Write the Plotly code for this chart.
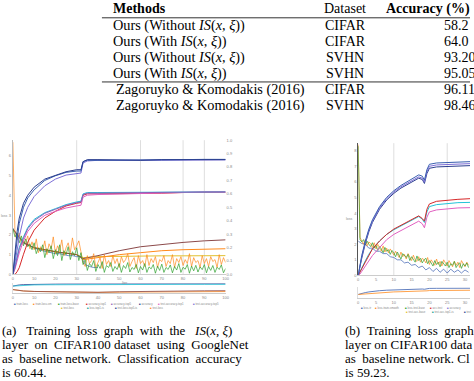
import plotly.graph_objects as go

W, H = 474, 381
NB = "\u00a0"  # extra space used to imitate the justified caption lines

# ---------------- table data ----------------
table_header = ["Methods", "Dataset", "Accuracy (%)"]
table_methods = [
    "Ours (Without <i>IS</i>(<i>x</i>, <i>ξ</i>))",
    "Ours (With <i>IS</i>(<i>x</i>, <i>ξ</i>))",
    "Ours (Without <i>IS</i>(<i>x</i>, <i>ξ</i>))",
    "Ours (With <i>IS</i>(<i>x</i>, <i>ξ</i>))",
    "Zagoruyko &amp; Komodakis (2016)",
    "Zagoruyko &amp; Komodakis (2016)",
]
table_datasets = ["CIFAR", "CIFAR", "SVHN", "SVHN", "CIFAR", "SVHN"]
table_accuracy = ["58.2", "64.0", "93.20", "95.05", "96.11", "98.46"]

caption_a_words = [
    ["(a)", "Training", "loss", "graph", "with", "the", "<i>IS</i>(<i>x</i>, <i>ξ</i>)"],
    ["layer", "on", "CIFAR100", "dataset", "using", "GoogleNet"],
    ["as", "baseline", "network.", "Classification", "accuracy"],
    ["is", "60.44."],
]
caption_a_gaps = [[3, 2, 2, 2, 2, 3], [2, 2, 1, 2, 2], [2, 1, 2, 2], [1]]
caption_b_words = [
    ["(b)", "Training", "loss", "graph"],
    ["layer", "on", "CIFAR100", "data"],
    ["as", "baseline", "network.", "Cl"],
    ["is", "59.23."],
]
caption_b_gaps = [[2, 2, 2], [1, 1, 1, 1], [2, 1, 1], [1]]

# ---------------- chart (a) data ----------------
iters_a = list(range(101))
green_loss_a = [2.30, 1.90, 2.10, 1.60, 1.95, 1.45, 1.80, 1.40, 1.55, 1.25,
                1.60, 1.05, 1.35, 1.15, 1.50, 0.85, 1.30, 1.10, 1.45, 0.80,
                1.25, 0.95, 1.50, 0.70, 1.20, 1.00, 1.40, 0.75, 1.15, 0.95,
                1.35, 0.70, 1.10, 0.50,
                0.75, 0.20, 0.55, 0.40, 0.70, 0.15,
                0.50, 0.30, 0.65, 0.10, 0.45, 0.35, 0.60, 0.15, 0.40, 0.25,
                0.55, 0.10, 0.45, 0.30, 0.60, 0.12, 0.35, 0.25, 0.50, 0.08,
                0.40, 0.22, 0.55, 0.10, 0.38, 0.28, 0.50, 0.06, 0.42, 0.20,
                0.52, 0.10, 0.35, 0.25, 0.48, 0.08, 0.40, 0.22, 0.55, 0.10,
                0.36, 0.26, 0.50, 0.06, 0.42, 0.18, 0.46, 0.12, 0.38, 0.24,
                0.50, 0.08, 0.40, 0.20, 0.45, 0.10, 0.36, 0.25, 0.48, 0.08, 0.30]
orange_loss_a = [6.70, 2.00, 1.75, 2.10, 1.50, 1.70, 1.60, 1.95, 1.30, 1.65,
                 1.25, 1.80, 1.10, 1.40, 1.20, 1.70, 1.00, 1.55, 1.30, 1.90,
                 1.05, 1.45, 1.20, 1.75, 0.95, 1.35, 1.60, 1.10, 1.85, 1.25,
                 1.45, 1.70, 1.15, 0.60,
                 0.40, 0.95, 0.55, 0.70, 1.05, 0.35,
                 0.60, 0.85, 0.30, 1.00, 0.50, 0.70, 0.40, 0.95, 0.55, 0.80,
                 0.35, 0.90, 0.60, 0.75, 1.05, 0.40, 0.65, 0.85, 0.30, 0.95,
                 0.55, 0.70, 0.40, 1.00, 0.45, 0.80, 0.60, 0.90, 0.35, 0.75,
                 0.65, 0.95, 0.40, 0.70, 0.55, 1.00, 0.35, 0.80, 0.60, 0.90,
                 0.45, 0.75, 0.55, 1.05, 0.40, 0.85, 0.60, 0.70, 0.35, 0.95,
                 0.55, 0.80, 0.40, 0.90, 0.65, 0.75, 0.35, 1.00, 0.50, 0.85, 0.60]
iters_blue_a = [0, 2, 4, 6, 8, 10, 12, 14, 16, 18, 20, 22, 24, 26, 28, 30, 32, 34, 36, 38, 40]
blue_loss_a = [2.35, 1.95, 1.80, 1.55, 1.45, 1.35, 1.25, 1.20, 1.15, 1.10,
               1.05, 1.05, 1.00, 0.95, 0.95, 0.90, 0.90, 0.50, 0.40, 0.35, 0.35]

iters_test_a = [0, 5, 10, 20, 30, 33, 40, 50, 60, 70, 80, 90, 100]
test_loss_brown_a = [2.3, 1.6, 1.35, 1.15, 1.0, 0.80, 0.95, 1.20, 1.40, 1.52, 1.62, 1.70, 1.75]
test_loss_orange_a = [2.3, 1.6, 1.35, 1.15, 1.0, 0.75, 0.85, 1.00, 1.10, 1.20, 1.25, 1.28, 1.30]
test_loss_yellow_a = [2.3, 1.6, 1.35, 1.15, 1.0, 0.85, 0.90, 0.92, 0.93, 0.94, 0.94, 0.95, 0.95]

iters_acc_a = [0, 1, 2, 3, 5, 7, 10, 15, 20, 25, 30, 32, 33, 35, 40, 50, 60, 70, 80, 90, 100]
top5_navy_a = [0.0, 0.18, 0.32, 0.42, 0.53, 0.59, 0.65, 0.71, 0.74, 0.765, 0.78, 0.78, 0.84, 0.855, 0.855, 0.85, 0.85, 0.855, 0.855, 0.855, 0.855]
top5_violet_a = [0.0, 0.08, 0.18, 0.28, 0.42, 0.50, 0.58, 0.66, 0.71, 0.74, 0.75, 0.755, 0.83, 0.845, 0.85, 0.848, 0.85, 0.85, 0.852, 0.853, 0.853]
top5_blue_a = [0.0, 0.14, 0.27, 0.38, 0.50, 0.57, 0.63, 0.70, 0.735, 0.76, 0.77, 0.77, 0.84, 0.85, 0.85, 0.85, 0.853, 0.853, 0.855, 0.857, 0.857]
top1_cyan_a = [0.0, 0.06, 0.13, 0.20, 0.28, 0.35, 0.41, 0.46, 0.49, 0.52, 0.54, 0.545, 0.60, 0.61, 0.61, 0.61, 0.61, 0.61, 0.612, 0.615, 0.615]
top1_pink_a = [0.0, 0.04, 0.10, 0.16, 0.25, 0.32, 0.38, 0.44, 0.47, 0.495, 0.51, 0.515, 0.575, 0.59, 0.595, 0.60, 0.60, 0.605, 0.61, 0.612, 0.612]
top1_red_a = [0.0, 0.0, 0.02, 0.05, 0.15, 0.24, 0.33, 0.42, 0.47, 0.51, 0.53, 0.535, 0.59, 0.60, 0.60, 0.60, 0.605, 0.605, 0.61, 0.612, 0.612]
top1_purple_a = [0.0, 0.05, 0.12, 0.19, 0.27, 0.34, 0.40, 0.455, 0.485, 0.515, 0.535, 0.54, 0.595, 0.605, 0.605, 0.608, 0.61, 0.61, 0.612, 0.615, 0.615]
lr_steps_a = [30, 60, 80, 90]

legend_a_row1 = ["train-loss", "train-loss-sm", "train-loss-base", "accuracy-top1",
                 "accuracy-top5", "accuracy", "test-accuracy-top1", "test-accuracy-top5"]
legend_a_row2 = ["test-loss", "loss-top1-is", "test-loss-top5-is", "test-loss"]

# ---------------- chart (b) data ----------------
iters_b = [i * 0.5 for i in range(63)]
green_loss_b = [8.3, 2.3, 2.15, 2.3, 1.95, 2.2, 2.0, 1.85, 2.1, 1.75,
                1.95, 1.6, 1.85, 1.7, 1.45, 1.8, 1.55, 1.65, 1.35, 1.6,
                1.45, 1.2, 1.5, 1.3, 1.05, 1.4, 1.25, 1.15, 1.35, 0.95,
                1.2, 1.05, 0.85, 1.25, 0.95, 1.1, 0.8, 1.0, 1.1, 0.75,
                0.95, 0.8, 0.6, 0.95, 0.7, 0.85, 0.55, 0.9, 0.75, 0.6,
                0.85, 0.5, 0.75, 0.65, 0.9, 0.5, 0.7, 0.8, 0.45, 0.75,
                0.6, 0.8, 0.5]
orange_loss_b = [8.4, 2.45, 2.2, 2.0, 2.3, 1.9, 2.15, 2.05, 1.8, 2.1,
                 1.7, 2.0, 1.75, 1.55, 1.9, 1.5, 1.75, 1.45, 1.7, 1.5,
                 1.3, 1.55, 1.35, 1.15, 1.5, 1.2, 1.35, 1.05, 1.4, 1.15,
                 0.95, 1.3, 1.0, 0.9, 1.2, 0.85, 1.1, 1.0, 0.8, 1.15,
                 0.7, 1.0, 0.85, 0.65, 1.05, 0.7, 0.9, 0.6, 1.0, 0.75,
                 0.6, 0.95, 0.7, 0.55, 0.9, 0.65, 0.85, 0.5, 0.95, 0.7,
                 0.55, 0.85, 0.65]
iters_blue_b = list(range(32))
blue_loss_b = [2.2, 2.05, 2.0, 1.75, 1.75, 1.55, 1.55, 1.4, 1.4, 1.2,
               1.15, 1.0, 1.0, 0.8, 0.85, 0.65, 0.7, 0.5, 0.6, 0.35,
               0.5, 0.25, 0.45, 0.2, 0.4, 0.15, 0.4, 0.2, 0.35, 0.15, 0.35, 0.2]

iters_acc_b = [0, 0.5, 1, 2, 3, 4, 6, 8, 10, 12, 14, 16, 17, 18, 18.6, 19.3, 20, 22, 25, 28, 31.4]
top5_blue_b = [0, 0.08, 0.15, 0.26, 0.35, 0.42, 0.52, 0.59, 0.64, 0.68, 0.71, 0.74, 0.76, 0.75, 0.72, 0.80, 0.84, 0.85, 0.855, 0.86, 0.86]
top5_violet_b = [0, 0.07, 0.14, 0.25, 0.34, 0.41, 0.51, 0.58, 0.63, 0.67, 0.70, 0.73, 0.745, 0.735, 0.705, 0.785, 0.825, 0.835, 0.84, 0.842, 0.845]
top5_navy_b = [0, 0.07, 0.13, 0.24, 0.33, 0.40, 0.50, 0.57, 0.62, 0.66, 0.69, 0.72, 0.735, 0.725, 0.695, 0.77, 0.81, 0.82, 0.825, 0.828, 0.83]
top1_red_b = [0, 0.02, 0.05, 0.10, 0.15, 0.20, 0.26, 0.31, 0.35, 0.38, 0.41, 0.44, 0.45, 0.43, 0.41, 0.50, 0.54, 0.56, 0.57, 0.575, 0.58]
top1_cyan_b = [0, 0.03, 0.06, 0.11, 0.16, 0.20, 0.26, 0.31, 0.345, 0.375, 0.405, 0.435, 0.445, 0.425, 0.40, 0.48, 0.52, 0.535, 0.545, 0.55, 0.552]
top1_pink_b = [0, 0.01, 0.03, 0.07, 0.11, 0.15, 0.21, 0.27, 0.31, 0.34, 0.37, 0.40, 0.41, 0.39, 0.36, 0.44, 0.48, 0.495, 0.505, 0.51, 0.512]
lr_steps_b = [10, 25]

legend_b_row1 = ["loss-tr", "loss-train-smooth", "loss-test-base", "acc-test", "accuracy"]
legend_b_row2 = ["test-acc-base", "test-acc-top1-is", "test"]

# ---------------- colours ----------------
C_BLUE = "#3a5fb0"
C_NAVY = "#2c3f8f"
C_VIOLET = "#7d6fd6"
C_ORANGE = "#ff8a1c"
C_GREEN = "#2ca02c"
C_RED = "#d62728"
C_PINK = "#e060c0"
C_CYAN = "#22c4d8"
C_PURPLE = "#8f5fb8"
C_BROWN = "#8c4a4a"
C_YELLOW = "#e0c030"
C_TEAL = "#20a090"

legend_a_colors1 = [C_BLUE, C_ORANGE, C_GREEN, C_RED, C_PURPLE, C_NAVY, C_PINK, C_VIOLET]
legend_a_colors2 = [C_YELLOW, C_TEAL, C_NAVY, C_ORANGE]
legend_b_colors1 = [C_BLUE, C_ORANGE, C_GREEN, C_RED, C_VIOLET]
legend_b_colors2 = [C_YELLOW, C_TEAL, C_NAVY]


def px_x(p):
    return p / W


def px_y(p):
    return 1 - p / H


def justify(words, gaps):
    out = words[0]
    for w, g in zip(words[1:], gaps):
        out += " " + NB * (g - 1) + w
    return out


fig = go.Figure()


def line(x, y, color, xa, ya, width=1.0):
    fig.add_trace(go.Scatter(x=x, y=y, mode="lines", xaxis=xa, yaxis=ya,
                             line=dict(color=color, width=width), hoverinfo="skip"))


# chart (a) main
line(iters_test_a, test_loss_yellow_a, C_YELLOW, "x", "y")
line(iters_test_a, test_loss_orange_a, C_ORANGE, "x", "y")
line(iters_test_a, test_loss_brown_a, C_BROWN, "x", "y")
line(iters_blue_a, blue_loss_a, C_BLUE, "x", "y", 0.7)
line(iters_a, orange_loss_a, C_ORANGE, "x", "y", 0.7)
line(iters_a, green_loss_a, C_GREEN, "x", "y", 0.7)
line(iters_acc_a, top1_red_a, C_RED, "x", "y2")
line(iters_acc_a, top1_pink_a, C_PINK, "x", "y2")
line(iters_acc_a, top1_cyan_a, C_CYAN, "x", "y2")
line(iters_acc_a, top1_purple_a, C_PURPLE, "x", "y2")
line(iters_acc_a, top5_violet_a, C_VIOLET, "x", "y2")
line(iters_acc_a, top5_blue_a, C_BLUE, "x", "y2")
line(iters_acc_a, top5_navy_a, C_NAVY, "x", "y2")
# chart (a) overview
line(iters_acc_a, top5_navy_a, C_NAVY, "x2", "y3", 0.8)
line(iters_acc_a, top1_cyan_a, C_CYAN, "x2", "y3", 0.8)
line(iters_test_a, test_loss_orange_a, C_ORANGE, "x2", "y4", 0.8)
line(iters_test_a, test_loss_brown_a, C_BROWN, "x2", "y4", 0.8)

# chart (b) main
line(iters_blue_b, blue_loss_b, C_BLUE, "x3", "y5", 0.7)
line(iters_b, orange_loss_b, C_ORANGE, "x3", "y5", 0.7)
line(iters_b, green_loss_b, C_GREEN, "x3", "y5", 0.7)
line(iters_acc_b, top1_pink_b, C_PINK, "x3", "y6")
line(iters_acc_b, top1_cyan_b, C_CYAN, "x3", "y6")
line(iters_acc_b, top1_red_b, C_RED, "x3", "y6")
line(iters_acc_b, top5_navy_b, C_NAVY, "x3", "y6")
line(iters_acc_b, top5_violet_b, C_VIOLET, "x3", "y6")
line(iters_acc_b, top5_blue_b, C_BLUE, "x3", "y6")
# chart (b) overview
line(iters_acc_b, top5_blue_b, C_BLUE, "x4", "y7", 0.8)
line(iters_acc_b, top1_red_b, C_ORANGE, "x4", "y7", 0.8)

tick_font = dict(size=4, color="#888888", family="Liberation Sans")
common_x = dict(showgrid=False, zeroline=False, showline=True, linecolor="#cccccc",
                linewidth=1, ticks="", tickfont=tick_font)
common_y = dict(showgrid=False, zeroline=False, ticks="", tickfont=tick_font)

dom_xa = [px_x(12), px_x(227)]
dom_xb = [px_x(361), 1.0]

fig.update_layout(
    width=W, height=H,
    margin=dict(l=0, r=0, t=0, b=0),
    paper_bgcolor="white", plot_bgcolor="white",
    showlegend=False,
    xaxis=dict(common_x, domain=dom_xa, anchor="y", range=[0, 100], dtick=10),
    yaxis=dict(common_y, domain=[px_y(275), px_y(139)], anchor="x", range=[0, 6.8], dtick=1,
               showline=True, linecolor="#bbbbbb", linewidth=1),
    yaxis2=dict(common_y, overlaying="y", side="right", anchor="x", range=[0, 1], dtick=0.1,
                tickformat=".1f", showline=False),
    xaxis2=dict(common_x, domain=dom_xa, anchor="y3", range=[0, 100], dtick=10),
    yaxis3=dict(common_y, domain=[px_y(294), px_y(284)], anchor="x2", range=[-2.5, 1.0],
                showticklabels=False, showline=True, linecolor="#dddddd"),
    yaxis4=dict(common_y, overlaying="y3", anchor="x2", range=[0.5, 5.5], showticklabels=False),
    xaxis3=dict(common_x, domain=dom_xb, anchor="y5", range=[0, 31.4], dtick=5),
    yaxis5=dict(common_y, domain=[px_y(276), px_y(142)], anchor="x3", range=[0, 8.5], dtick=1,
                showline=True, linecolor="#555555", linewidth=1),
    yaxis6=dict(common_y, overlaying="y5", anchor="x3", range=[0, 1], showticklabels=False),
    xaxis4=dict(common_x, domain=dom_xb, anchor="y7", range=[0, 31.4], dtick=5),
    yaxis7=dict(common_y, domain=[px_y(299), px_y(288)], anchor="x4", range=[-0.5, 1.0],
                showticklabels=False, showline=True, linecolor="#dddddd"),
)

shapes = []
for s in lr_steps_a:
    shapes.append(dict(type="line", xref="x", yref="y domain", x0=s, x1=s, y0=0, y1=1,
                       line=dict(color="#dedede", width=1), layer="below"))
for s in lr_steps_b:
    shapes.append(dict(type="line", xref="x3", yref="y5 domain", x0=s, x1=s, y0=0, y1=1,
                       line=dict(color="#dedede", width=1), layer="below"))
# table rules
for yp in [15, 80]:
    shapes.append(dict(type="line", xref="paper", yref="paper", x0=px_x(102), x1=1,
                       y0=px_y(yp), y1=px_y(yp), line=dict(color="#333333", width=1)))
fig.update_layout(shapes=shapes)

ann = []
SERIF = "Liberation Serif"


def text(x, y, t, size, anchor="left", family=SERIF, color="black"):
    ann.append(dict(x=px_x(x), y=px_y(y), xref="paper", yref="paper", text=t,
                    showarrow=False, xanchor=anchor, yanchor="middle",
                    font=dict(family=family, size=size, color=color), borderpad=0))


# table header
text(112, 6, "<b>" + table_header[0] + "</b>", 14)
text(348, 6, table_header[1], 14, "center")
text(388, 6, "<b>" + table_header[2] + "</b>", 14)
row_y = [23, 39, 55, 71, 88, 104]
for i, yv in enumerate(row_y):
    text(112 if i < 4 else 115, yv, table_methods[i], 14.3)
    text(348, yv, table_datasets[i], 14, "center")
    text(447, yv, table_accuracy[i], 14)

# captions
cap_y = [332, 346.3, 360.5, 374.7]
for yv, wds, gps in zip(cap_y, caption_a_words, caption_a_gaps):
    text(0, yv, justify(wds, gps), 13)
for yv, wds, gps in zip(cap_y, caption_b_words, caption_b_gaps):
    text(347, yv, justify(wds, gps), 13)

# tiny axis titles
text(125, 283.5, "Iter", 3.5, "center", "Liberation Sans", "#888888")
text(3, 216, "loss", 3.5, "center", "Liberation Sans", "#888888")
text(352, 219, "loss", 3.5, "center", "Liberation Sans", "#888888")


# tiny legends
def legend_item(x, y, name, color):
    ann.append(dict(x=px_x(x), y=px_y(y), xref="paper", yref="paper",
                    text="<span style='color:%s'>■</span> %s" % (color, name),
                    showarrow=False, xanchor="left", yanchor="middle", borderpad=0,
                    font=dict(family="Liberation Sans", size=2.8, color="#888888")))


for x, n, c in zip([12, 31, 57, 85, 110, 138, 158, 193], legend_a_row1, legend_a_colors1):
    legend_item(x, 305, n, c)
for x, n, c in zip([60, 86, 114, 150], legend_a_row2, legend_a_colors2):
    legend_item(x, 309.5, n, c)
for x, n, c in zip([363, 377, 407, 433, 450], legend_b_row1, legend_b_colors1):
    legend_item(x, 309, n, c)
for x, n, c in zip([408, 435, 467], legend_b_row2, legend_b_colors2):
    legend_item(x, 313, n, c)

fig.update_layout(annotations=ann)
fig.write_html("out.html", config={"displayModeBar": False},
               post_script="document.body.style.margin='0px';document.body.style.overflow='hidden';")
